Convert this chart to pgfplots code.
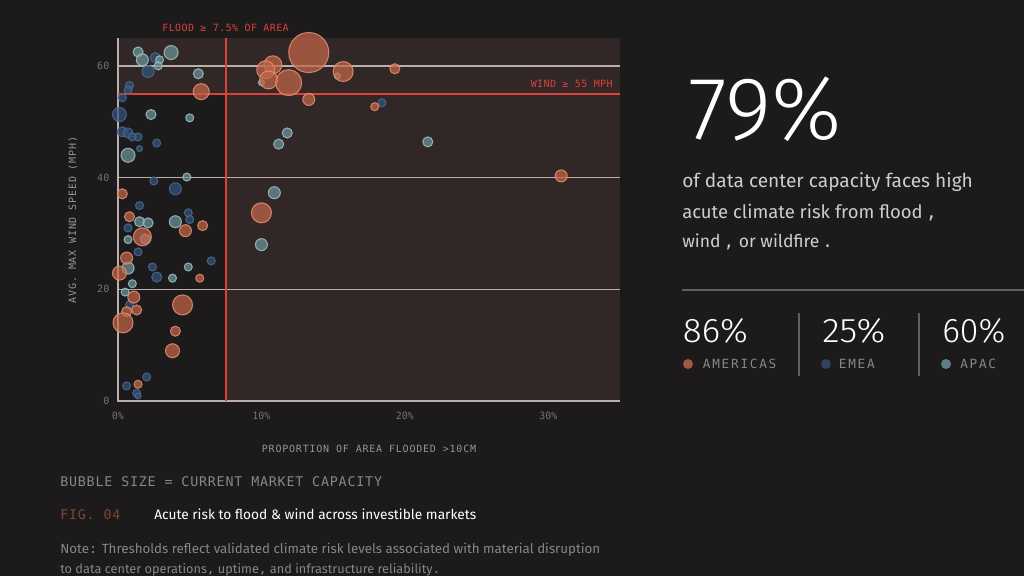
\documentclass[border=0pt]{standalone}
\usepackage{fontspec}
\usepackage{graphicx}
\usepackage{pgfplots}
\usepackage{pgfplotstable}
\pgfplotsset{compat=1.18}
\setmainfont{Fira Sans}
\setmonofont{DejaVu Sans Mono}
\newfontfamily\lightfont{Fira Sans Light}
\definecolor{bg}{RGB}{28,26,26}
\definecolor{shadec}{RGB}{50,39,39}
\definecolor{redc}{RGB}{220,66,56}
\definecolor{gridc}{RGB}{185,176,174}
\definecolor{tickc}{RGB}{115,115,115}
\definecolor{labc}{RGB}{150,150,150}
\definecolor{amerF}{RGB}{196,102,72}
\definecolor{amerS}{RGB}{226,142,112}
\definecolor{emeaF}{RGB}{52,82,122}
\definecolor{emeaS}{RGB}{72,106,146}
\definecolor{apacF}{RGB}{108,148,154}
\definecolor{apacS}{RGB}{160,190,194}
\definecolor{bodyc}{RGB}{205,205,205}
\definecolor{notec}{RGB}{135,135,135}
\definecolor{figc}{RGB}{128,70,55}
\definecolor{rulec}{RGB}{95,95,95}
\definecolor{dotA}{RGB}{160,88,66}
\definecolor{dotE}{RGB}{48,66,92}
\definecolor{dotP}{RGB}{92,128,130}

\pgfplotstableread{
x y r
13.3 62.4 20
10.8 60.2 9
10.3 59.3 9
10.5 57.5 9
11.9 57.0 13
15.7 59.0 10
13.3 54.0 6
19.3 59.5 5
17.9 52.7 4
30.9 40.3 6
10.0 33.7 10
5.8 55.4 8
0.3 37.1 5
0.8 33.0 5
1.7 29.4 9
4.7 30.5 6
5.9 31.4 5
0.6 25.6 6
0.1 22.9 7
5.7 22.0 4
1.1 18.6 6
0.6 16.0 5
1.3 16.3 5
0.35 14.0 10
4.5 17.2 10
4.0 12.5 5
3.8 9.0 7
1.4 3.0 4
}\amer

\pgfplotstableread{
x y r
2.6 61.5 5
2.1 59.0 6
0.8 56.5 4
0.7 55.7 4
0.3 54.3 4
0.1 51.3 7
0.3 48.2 5
0.7 48.0 5
1.0 47.3 4
1.4 47.3 4
2.7 46.2 4
1.5 45.2 3
2.5 39.4 4
4.0 38.0 6
1.5 35.0 4
0.7 31.0 4
4.9 33.7 4
5.0 32.5 4
1.4 26.7 4
2.4 24.0 4
6.5 25.1 4
2.7 22.2 5
0.8 17.2 4
2.0 4.3 4
0.6 2.7 4
1.3 1.4 4
1.4 0.9 3
18.4 53.4 4
}\emea

\pgfplotstableread{
x y r
1.4 62.5 5
1.7 61.1 6
2.9 61.1 4
3.7 62.4 7
2.8 60.0 4
5.6 58.6 5
2.3 51.3 5
5.0 50.7 4
0.7 44.0 7
4.8 40.1 4
1.5 32.1 5
2.1 31.9 5
1.9 29.0 5
4.0 32.1 6
0.7 28.9 4
0.7 23.8 6
4.9 24.0 4
3.8 22.0 4
1.0 21.0 4
0.5 19.5 4
10.0 57.0 3
15.3 58.2 3
11.8 48.0 5
11.2 46.0 5
21.6 46.4 5
10.9 37.3 6
10.0 28.0 6
}\apac

\pgfplotsset{
  bubble/.style n args={2}{scatter, only marks, mark=*,
    scatter/use mapped color={draw=#2, fill=#1, fill opacity=0.72, draw opacity=0.85, line width=0.8pt},
    visualization depends on={0.75*\thisrow{r} \as \rad},
    scatter/@pre marker code/.append style={/tikz/mark size=\rad}},
}

\begin{document}
\begin{tikzpicture}
\fill[bg] (0,0) rectangle (768pt,432pt);
\useasboundingbox (0,0) rectangle (768pt,432pt);

\begin{axis}[
  at={(88.5pt,131.25pt)}, anchor=south west,
  scale only axis, width=376.5pt, height=272.25pt,
  xmin=0, xmax=35, ymin=0, ymax=65,
  clip=false,
  axis x line*=bottom, axis y line*=left,
  axis line style={draw=none},
  major tick length=0pt,
  xtick={0,10,20,30}, xticklabels={0\%,10\%,20\%,30\%},
  ytick={0,20,40,60}, yticklabels={0,20,40,60},
  tick label style={font=\ttfamily\fontsize{7.5}{8}\selectfont, text=tickc},
  xticklabel style={yshift=-5pt},
  yticklabel style={xshift=-3pt},
]
\fill[shadec] (axis cs:7.5,0) rectangle (axis cs:35,65);
\fill[shadec] (axis cs:0,55) rectangle (axis cs:7.5,65);
\draw[gridc, line width=1.1pt] (axis cs:0,20) -- (axis cs:35,20);
\draw[gridc, line width=1.1pt] (axis cs:0,40) -- (axis cs:35,40);
\draw[gridc, line width=1.1pt] (axis cs:0,60) -- (axis cs:35,60);
\draw[gridc, line width=1.1pt] (axis cs:0,65) -- (axis cs:0,0) -- (axis cs:35,0);
\draw[redc, line width=1.5pt] (axis cs:7.5,0) -- (axis cs:7.5,65);
\draw[redc, line width=1.5pt] (axis cs:0,55) -- (axis cs:35,55);

\addplot[bubble={emeaF}{emeaS}] table[x=x,y=y] {\emea};
\addplot[bubble={apacF}{apacS}] table[x=x,y=y] {\apac};
\addplot[bubble={amerF}{amerS}] table[x=x,y=y] {\amer};

\node[anchor=south, text=redc, font=\ttfamily\fontsize{7.5}{8}\selectfont\addfontfeature{LetterSpace=4}, yshift=1pt] at (axis cs:7.5,65) {FLOOD ≥ 7.5\% OF AREA};
\node[anchor=south east, text=redc, font=\ttfamily\fontsize{7.5}{8}\selectfont\addfontfeature{LetterSpace=4}, xshift=-2pt, yshift=1pt] at (axis cs:35,55) {WIND ≥ 55 MPH};
\end{axis}

% axis titles
\node[rotate=90, text=labc, font=\ttfamily\fontsize{7.5}{8}\selectfont\addfontfeature{LetterSpace=8}] at (54.75pt,267pt) {AVG. MAX WIND SPEED (MPH)};
\node[text=labc, font=\ttfamily\fontsize{7.5}{8}\selectfont\addfontfeature{LetterSpace=8}] at (276.75pt,95.25pt) {PROPORTION OF AREA FLOODED >10CM};

% right panel
\node[anchor=base west, inner sep=0, text=white] at (516pt,327pt) {\resizebox{115pt}{47pt}{\lightfont 79\%}};
\node[anchor=base west, inner sep=0, text=bodyc] at (511.5pt,291pt) {\resizebox{218pt}{!}{of data center capacity faces high}};
\node[anchor=base west, inner sep=0, text=bodyc] at (511.5pt,268.5pt) {\resizebox{191pt}{!}{acute climate risk from flood\,{\ttfamily,}}};
\node[anchor=base west, inner sep=0, text=bodyc] at (511.5pt,246.75pt) {\resizebox{113pt}{!}{wind\,{\ttfamily,} or wildfire\,{\ttfamily.}}};
\draw[rulec, line width=1.1pt] (511.5pt,214.5pt) -- (768pt,214.5pt);

\node[anchor=base west, inner sep=0, text=white] at (512pt,175.5pt) {\resizebox{48.75pt}{18pt}{\lightfont 86\%}};
\node[anchor=base west, inner sep=0, text=white] at (616.5pt,175.5pt) {\resizebox{47.25pt}{18pt}{\lightfont 25\%}};
\node[anchor=base west, inner sep=0, text=white] at (706.5pt,175.5pt) {\resizebox{47.25pt}{18pt}{\lightfont 60\%}};
\draw[rulec, line width=1.1pt] (599.25pt,197.25pt) -- (599.25pt,150pt);
\draw[rulec, line width=1.1pt] (689.25pt,197.25pt) -- (689.25pt,150pt);

\fill[dotA] (516pt,159pt) circle (3.75pt);
\fill[dotE] (619.5pt,159pt) circle (3.75pt);
\fill[dotP] (709.5pt,159pt) circle (3.75pt);
\node[anchor=west, inner sep=0, text=notec, font=\ttfamily\fontsize{9.5}{10}\selectfont\addfontfeature{LetterSpace=14}] at (527pt,159pt) {AMERICAS};
\node[anchor=west, inner sep=0, text=notec, font=\ttfamily\fontsize{9.5}{10}\selectfont\addfontfeature{LetterSpace=14}] at (629pt,159pt) {EMEA};
\node[anchor=west, inner sep=0, text=notec, font=\ttfamily\fontsize{9.5}{10}\selectfont\addfontfeature{LetterSpace=14}] at (720pt,159pt) {APAC};

% bottom texts
\node[anchor=base west, inner sep=0, text=notec, font=\ttfamily\fontsize{10}{11}\selectfont\addfontfeature{LetterSpace=6}] at (45pt,67.5pt) {BUBBLE SIZE = CURRENT MARKET CAPACITY};
\node[anchor=base west, inner sep=0, text=figc, font=\ttfamily\fontsize{10}{11}\selectfont\addfontfeature{LetterSpace=6}] at (45pt,42.75pt) {FIG. 04};
\node[anchor=base west, inner sep=0, text=white] at (115.5pt,42.75pt) {\resizebox{241.5pt}{!}{Acute risk to flood \& wind across investible markets}};
\node[anchor=base west, inner sep=0, text=notec] at (45pt,17.25pt) {\resizebox{405pt}{!}{Note{\ttfamily:} Thresholds reflect validated climate risk levels associated with material disruption}};
\node[anchor=base west, inner sep=0, text=notec] at (45pt,2.25pt) {\resizebox{285pt}{!}{to data center operations{\ttfamily,} uptime{\ttfamily,} and infrastructure reliability{\ttfamily.}}};
\end{tikzpicture}
\end{document}
